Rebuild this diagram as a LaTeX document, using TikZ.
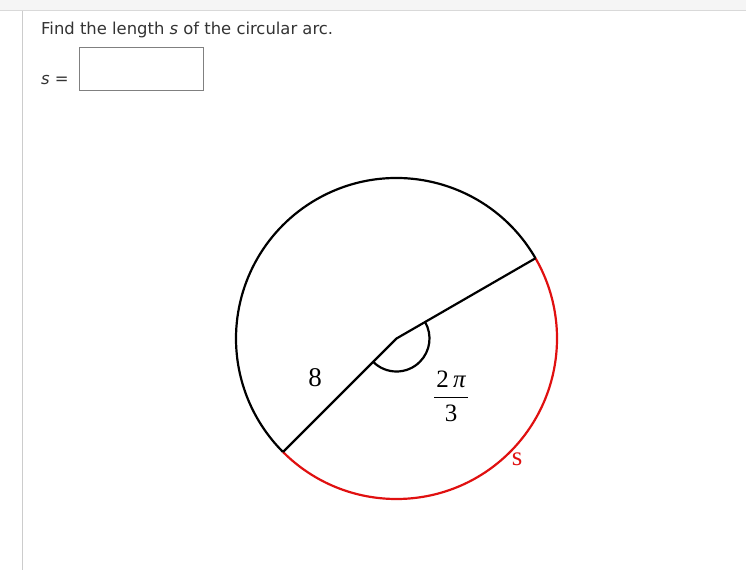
\documentclass[tikz,border=0pt]{standalone}
\usepackage{fontspec}
\setmainfont{DejaVu Sans}
\newfontfamily\labfont{Liberation Serif}
\usepackage{amsmath}
\usepackage{unicode-math}
\setmathfont{Latin Modern Math}
\definecolor{txt}{HTML}{333333}
\definecolor{arcred}{HTML}{E01010}
\begin{document}
\begin{tikzpicture}[x=1pt,y=-1pt,
  circ/.style={line width=2.2pt},
  qtext/.style={anchor=west, text=txt, font=\fontsize{16.4}{19}\selectfont, inner sep=0pt},
  lab/.style={font=\fontsize{27}{30}\selectfont\labfont, inner sep=0pt}]
\useasboundingbox (0,0) rectangle (746,570);
\fill[black!4] (0,0) rectangle (746,10);
\draw[black!15, line width=1pt] (0,10.5) -- (746,10.5);
\draw[black!20, line width=1pt] (22.5,10.5) -- (22.5,570);
\node[qtext] (q) at (41,30) {Find the length \textit{s} of the circular arc.};
\node[qtext] (seq) at (41,80) {\textit{s} =};
\node[draw=black!50, line width=1pt, minimum width=124pt, minimum height=43pt, anchor=north west, inner sep=0pt] (box) at (79,47) {};
\begin{scope}[shift={(396.5,338.5)}, x=1pt, y=1pt]
  \coordinate (O) at (0,0);
  \coordinate (A) at (30:160.5);
  \coordinate (B) at (225:160.5);
  \draw[circ] (A) arc[start angle=30, end angle=225, radius=160.5];
  \draw[circ, arcred] (B) arc[start angle=225, end angle=390, radius=160.5];
  \draw[circ, line join=round] (A) -- (O) -- (B);
  \draw[circ] (225:33) arc[start angle=225, end angle=390, radius=33];
\end{scope}
\node[lab] (r) at (315,378) {8};
\node[font=\fontsize{25}{27}\selectfont, inner sep=0pt] (ang) at (451,396) {$\dfrac{\mbox{\labfont\kern2pt 2\,\itshape π\kern2pt}}{\mbox{\labfont 3}}$};
\node[lab, text=arcred] (s) at (517,459) {s};
\end{tikzpicture}
\end{document}
